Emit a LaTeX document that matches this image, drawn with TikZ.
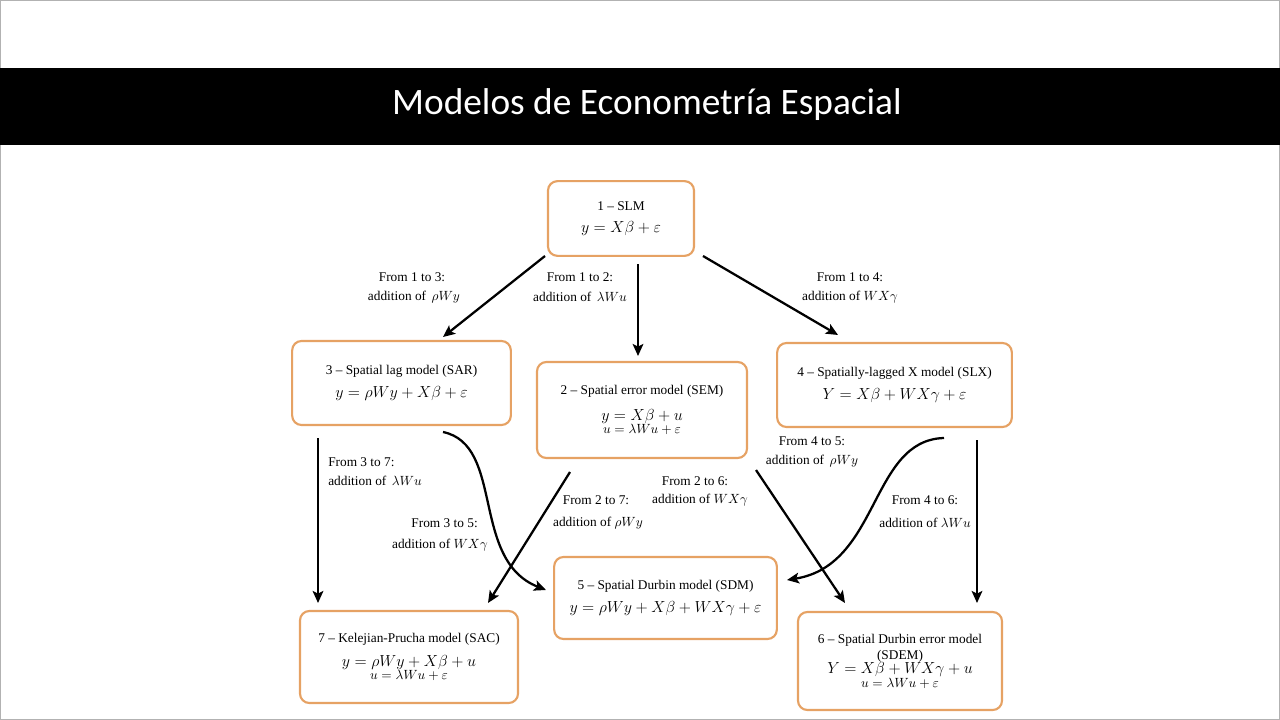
\documentclass[tikz,border=0pt]{standalone}
\usepackage{fontspec}
\setmainfont{Liberation Serif}
\newfontfamily\titlefont{Carlito}
\usetikzlibrary{arrows.meta}
\definecolor{boxor}{HTML}{E6A264}
\begin{document}
\begin{tikzpicture}[x=0.75pt,y=-0.75pt,
  box/.style={draw=boxor,line width=1.6pt,rounded corners=7pt,fill=white,align=center,font=\fontsize{10}{12}\selectfont,inner sep=2pt},
  arr/.style={line width=1.7pt,-{Stealth[length=9pt,width=8pt,inset=2pt]}},
  lab/.style={font=\fontsize{10}{12}\selectfont,inner sep=0pt}]
\useasboundingbox (0,0) rectangle (1280,720);
\draw[gray!60,line width=0.8pt] (0.5,0.5) rectangle (1279.5,719.5);
\fill[black] (0,68) rectangle (1280,145);
\node[text=white,font=\titlefont\fontsize{28}{32}\selectfont] (title) at (647,105) {Modelos de Econometría Espacial};

\node[box,minimum width=109.5pt,minimum height=56pt] (n1) at (621,218.5) {1 – SLM\\[5pt] \large $y=X\beta+\varepsilon$};
\node[box,minimum width=164pt,minimum height=63pt] (n3) at (401.5,383) {3 – Spatial lag model (SAR)\\[5pt] \large $y=\rho Wy+X\beta+\varepsilon$};
\node[box,minimum width=157.5pt,minimum height=72pt] (n2) at (642,410) {2 – Spatial error model (SEM)\\[7pt] \large $y=X\beta+u$\\[-2pt] $u=\lambda Wu+\varepsilon$};
\node[box,minimum width=176pt,minimum height=63pt] (n4) at (894.5,385) {4 – Spatially-lagged X model (SLX)\\[5pt] \large $Y=X\beta+WX\gamma+\varepsilon$};
\node[box,minimum width=163.5pt,minimum height=69pt] (n7) at (409,657) {7 – Kelejian-Prucha model (SAC)\\[6pt] \large $y=\rho Wy+X\beta+u$\\[-2pt] $u=\lambda Wu+\varepsilon$};
\node[box,minimum width=167pt,minimum height=61.5pt] (n5) at (665.5,598) {5 – Spatial Durbin model (SDM)\\[5pt] \large $y=\rho Wy+X\beta+WX\gamma+\varepsilon$};
\node[box,minimum width=153pt,minimum height=73.5pt] (n6) at (900,661) {6 – Spatial Durbin error model\\(SDEM)\\[-1pt] \large $Y=X\beta+WX\gamma+u$\\[-2pt] $u=\lambda Wu+\varepsilon$};

\coordinate (a1) at (545,256); \coordinate (b1) at (443,337);
\coordinate (a2) at (638,264); \coordinate (b2) at (638,356);
\coordinate (a3) at (703,256); \coordinate (b3) at (838,335);
\coordinate (a4) at (318,438); \coordinate (b4) at (318,603);
\coordinate (a5) at (443,432); \coordinate (b5) at (546,590);
\coordinate (a6) at (570,472); \coordinate (b6) at (488,603);
\coordinate (a7) at (756,470); \coordinate (b7) at (845,603);
\coordinate (a8) at (944,438); \coordinate (b8) at (787,580);
\coordinate (a9) at (977,440); \coordinate (b9) at (977,603);
\draw[arr] (a1) -- (b1);
\draw[arr] (a2) -- (b2);
\draw[arr] (a3) -- (b3);
\draw[arr] (a4) -- (b4);
\draw[arr] (a5) .. controls (505,445) and (470,560) .. (b5);
\draw[arr] (a6) -- (b6);
\draw[arr] (a7) -- (b7);
\draw[arr] (a8) .. controls (870,440) and (880,565) .. (b8);
\draw[arr] (a9) -- (b9);

\node[lab] (l13) at (412,277) {From 1 to 3:};
\node[lab] (m13) at (414,297) {addition of \,$\rho Wy$};
\node[lab] (l12) at (580,277) {From 1 to 2:};
\node[lab] (m12) at (580,297) {addition of \,$\lambda Wu$};
\node[lab] (l14) at (850,277) {From 1 to 4:};
\node[lab] (m14) at (850,297) {addition of $WX\gamma$};
\node[lab,anchor=west] (l37) at (328,462) {From 3 to 7:};
\node[lab,anchor=west] (m37) at (328,481) {addition of \,$\lambda Wu$};
\node[lab,anchor=east] (l35) at (478,523) {From 3 to 5:};
\node[lab,anchor=east] (m35) at (488,545) {addition of $WX\gamma$};
\node[lab] (l27) at (596,500) {From 2 to 7:};
\node[lab] (m27) at (598,523) {addition of $\rho Wy$};
\node[lab] (l26) at (695,481) {From 2 to 6:};
\node[lab] (m26) at (700,500) {addition of $WX\gamma$};
\node[lab] (l45) at (812,441) {From 4 to 5:};
\node[lab] (m45) at (812,461) {addition of \,$\rho Wy$};
\node[lab] (l46) at (925,500) {From 4 to 6:};
\node[lab] (m46) at (925,523) {addition of $\lambda Wu$};
\end{tikzpicture}
\end{document}
